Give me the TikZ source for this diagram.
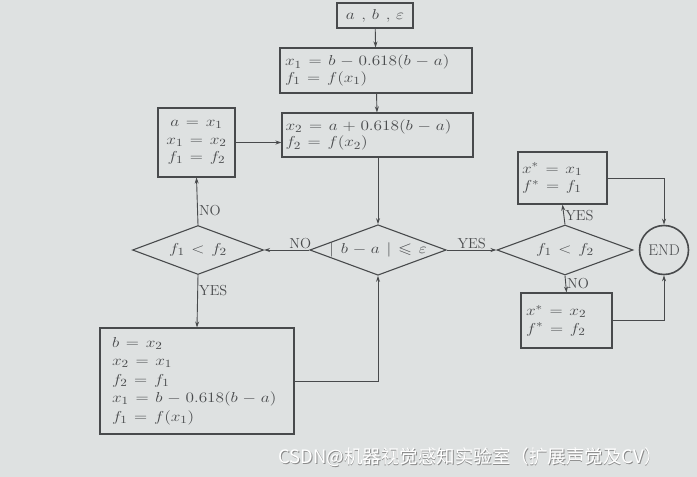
\documentclass[tikz,border=0pt]{standalone}
\usepackage{amssymb}
\usepackage{graphicx}
\usepackage{fontspec}
\newfontfamily\cjk{Noto Sans CJK SC}
\usetikzlibrary{shapes.geometric,arrows.meta,calc}
\definecolor{paper}{RGB}{222,225,225}
\definecolor{ink}{RGB}{72,74,76}
\newcommand{\wm}[1]{\scalebox{1.2}[1]{$\thickmuskip=7mu plus 2mu\medmuskip=5mu plus 2mu #1$}}
\begin{document}
\begin{tikzpicture}[x=1pt,y=-1pt,
  every node/.style={font=\fontsize{15}{18.5}\selectfont, text=ink},
  box/.style={draw=ink, line width=1.1pt, inner sep=0pt},
  dia/.style={draw=ink, line width=1.1pt, diamond, inner sep=0pt, shape aspect=2.7},
  conn/.style={draw=ink, line width=0.9pt},
  arr/.style={conn, -{Stealth[length=6pt,width=4pt]}},
  lab/.style={font=\fontsize{14.5}{16}\selectfont, inner sep=1pt}]
\fill[paper] (0,0) rectangle (697,477);
\useasboundingbox (0,0) rectangle (697,477);

% boxes
\node[box, minimum width=76pt, minimum height=25pt] (abe) at (375,15.5) {\wm{a\;,\,b\;,\,\varepsilon}};
\node[box, minimum width=192pt, minimum height=45pt, text width=182pt, align=left] (s1) at (376,70.5)
  {\wm{x_1 = b - 0.618(b - a)}\\[-2pt]\wm{f_1 = f(x_1)}};
\node[box, minimum width=191pt, minimum height=44pt, text width=184pt, align=left] (s2) at (377.5,135)
  {\wm{x_2 = a + 0.618(b - a)}\\[-2pt]\wm{f_2 = f(x_2)}};
\node[box, minimum width=77pt, minimum height=69pt, align=center] (ab) at (196.5,142.5)
  {\wm{a = x_1}\\[-1pt]\wm{x_1 = x_2}\\[-1pt]\wm{f_1 = f_2}};
\node[box, minimum width=194pt, minimum height=106pt, text width=170pt, align=left] (bb) at (197,381)
  {\wm{b = x_2}\\\wm{x_2 = x_1}\\\wm{f_2 = f_1}\\\wm{x_1 = b - 0.618(b - a)}\\\wm{f_1 = f(x_1)}};
\node[box, minimum width=89pt, minimum height=52pt, text width=81pt, align=left] (xs1) at (562.5,178)
  {\wm{x^{*} = x_1}\\[-1pt]\wm{f^{*} = f_1}};
\node[box, minimum width=91pt, minimum height=55pt, text width=81pt, align=left] (xs2) at (566.5,320.5)
  {\wm{x^{*} = x_2}\\[-1pt]\wm{f^{*} = f_2}};

% decisions
\node[dia, minimum width=134pt, minimum height=49pt] (d0) at (378,250) {\wm{|\; b - a\; | \leqslant \varepsilon}};
\node[dia, minimum width=131pt, minimum height=49pt] (dl) at (198,250) {\wm{f_1 < f_2}};
\node[dia, minimum width=136pt, minimum height=50pt] (dr) at (565,250) {\wm{f_1 < f_2}};
\node[circle, draw=ink, line width=1.6pt, minimum size=49pt, inner sep=0pt, font=\fontsize{15.5}{16}\selectfont] (end) at (664,250) {END};

% connectors
\draw[arr] (abe) -- (s1);
\draw[arr] (s1) -- (s2);
\draw[arr] (s2.south -| d0.north) -- (d0.north);
\draw[arr] (d0.west) -- node[lab, pos=0.2, above] {NO} (dl.east);
\draw[arr] (dl.north) -- node[lab, pos=0.3, right] {NO} (ab.south);
\draw[arr] (ab.east) -- (ab.east -| s2.west);
\draw[arr] (dl.south) -- node[lab, pos=0.3, right] {YES} (bb.north);
\draw[arr] (bb.east) -| (d0.south);
\draw[arr] (d0.east) -- node[lab, pos=0.5, above] {YES} (dr.west);
\draw[arr] (dr.north) -- node[lab, pos=0.45, right] {YES} (xs1.south);
\draw[arr] (dr.south) -- node[lab, pos=0.45, right] {NO} (xs2.north);
\draw[arr] (xs1.east) -| (end.north);
\draw[arr] (xs2.east) -| (end.south);

% watermark
\node[anchor=west, font=\cjk\fontsize{18.5}{20}\selectfont, text=black!45, inner sep=0pt] (wm0) at (278.8,457.8) {CSDN@机器视觉感知实验室（扩展声觉及CV）};
\node[anchor=west, font=\cjk\fontsize{18.5}{20}\selectfont, text=white, inner sep=0pt] (wm) at (278,457) {CSDN@机器视觉感知实验室（扩展声觉及CV）};
\end{tikzpicture}
\end{document}
